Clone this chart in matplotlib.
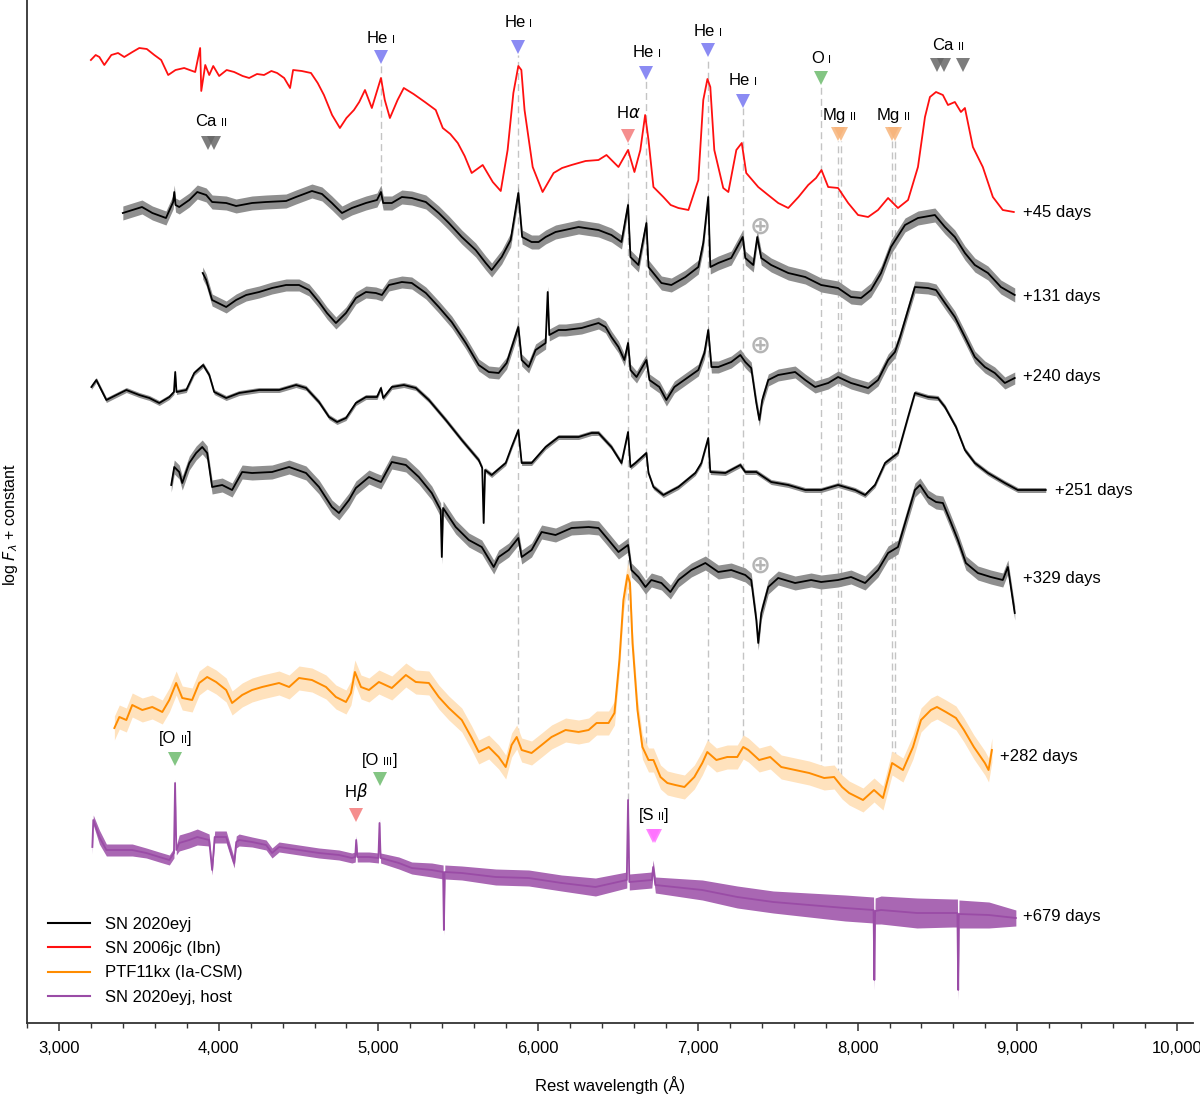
import numpy as np
import matplotlib
matplotlib.use("Agg")
import matplotlib.pyplot as plt
from matplotlib.transforms import ScaledTranslation
from matplotlib.ticker import FuncFormatter, MultipleLocator

plt.rcParams['font.family'] = ['Liberation Sans', 'DejaVu Sans']
plt.rcParams['font.size'] = 12

# ---- spectra (rest wavelength in A, log F + constant, arbitrary offsets) ----
sn06jc_wave = [3200, 3230, 3253, 3284, 3328, 3370, 3409, 3460, 3503, 3550, 3597, 3640, 3684, 3730, 3784,
               3853, 3884, 3891, 3916, 3941, 3966, 4003, 4050, 4097, 4150, 4191, 4240, 4284, 4330, 4366,
               4410, 4447, 4466, 4520, 4578, 4620, 4659, 4710, 4759, 4800, 4847, 4880, 4916, 4959, 5016,
               5040, 5072, 5120, 5159, 5220, 5291, 5359, 5403, 5450, 5497, 5540, 5584, 5653, 5716, 5766,
               5809, 5845, 5876, 5895, 5915, 5966, 6028, 6097, 6150, 6209, 6297, 6378, 6428, 6503, 6563,
               6603, 6640, 6670, 6691, 6722, 6784, 6830, 6878, 6941, 7003, 7034, 7060, 7078, 7103, 7159,
               7191, 7241, 7275, 7303, 7378, 7440, 7503, 7566, 7630, 7691, 7740, 7774, 7816, 7878, 7941,
               8003, 8066, 8128, 8191, 8253, 8316, 8378, 8422, 8453, 8491, 8534, 8566, 8609, 8647, 8672,
               8722, 8784, 8847, 8909, 8978]
sn06jc_flux = [1040, 1045, 1043, 1035, 1045, 1047, 1043, 1048, 1052, 1051, 1045, 1040, 1025, 1030, 1032,
               1028, 1052, 1009, 1035, 1025, 1034, 1024, 1030, 1028, 1024, 1022, 1026, 1025, 1029, 1027,
               1022, 1012, 1030, 1029, 1027, 1017, 1005, 985, 972, 982, 990, 998, 1010, 992, 1022,
               1000, 982, 1000, 1012, 1006, 998, 990, 972, 966, 957, 944, 927, 935, 918, 909,
               950, 1007, 1034, 1030, 990, 933, 908, 927, 932, 935, 939, 940, 945, 933, 950,
               928, 950, 985, 960, 913, 903, 895, 892, 890, 920, 1000, 1021, 1013, 950, 912,
               908, 950, 957, 927, 913, 905, 897, 892, 903, 915, 922, 930, 913, 912, 897,
               885, 883, 890, 902, 892, 900, 933, 983, 1003, 1008, 1005, 995, 998, 988, 992,
               953, 933, 903, 890, 888]

d131_wave = [3400, 3460, 3520, 3585, 3670, 3715, 3722, 3730, 3753, 3816, 3866, 3922, 3959, 4047, 4109,
             4209, 4297, 4422, 4484, 4584, 4647, 4709, 4772, 4834, 4922, 4991, 5016, 5030, 5084, 5147,
             5209, 5297, 5378, 5441, 5522, 5609, 5672, 5709, 5772, 5828, 5876, 5900, 5959, 6003, 6047,
             6109, 6253, 6378, 6459, 6522, 6563, 6578, 6628, 6678, 6691, 6772, 6834, 6922, 7003, 7034,
             7065, 7078, 7128, 7209, 7281, 7297, 7347, 7372, 7397, 7459, 7566, 7672, 7772, 7878, 7959,
             8022, 8084, 8147, 8209, 8297, 8378, 8484, 8547, 8609, 8672, 8734, 8816, 8897, 8984]
d131_flux = [887, 890, 893, 887, 882, 898, 908, 895, 893, 900, 908, 905, 898, 897, 894,
             897, 898, 899, 903, 909, 906, 897, 887, 892, 897, 900, 908, 897, 897, 903,
             902, 898, 887, 877, 863, 850, 837, 830, 843, 860, 907, 863, 858, 858, 863,
             868, 873, 870, 865, 858, 895, 843, 835, 877, 833, 817, 815, 823, 833, 857,
             903, 833, 837, 842, 863, 842, 835, 863, 842, 835, 827, 823, 815, 812, 803,
             802, 810, 827, 853, 875, 882, 885, 873, 863, 847, 835, 827, 813, 805]

d240_wave = [3900, 3922, 3959, 4047, 4109, 4172, 4253, 4334, 4422, 4503, 4566, 4628, 4678, 4734, 4797,
             4859, 4922, 4984, 5022, 5066, 5147, 5209, 5297, 5378, 5459, 5547, 5628, 5691, 5753, 5803,
             5876, 5897, 5941, 5984, 6047, 6060, 6070, 6128, 6172, 6272, 6378, 6422, 6459, 6503, 6540,
             6563, 6578, 6616, 6678, 6697, 6759, 6803, 6853, 6941, 7003, 7041, 7065, 7085, 7128, 7209,
             7266, 7297, 7334, 7366, 7385, 7403, 7441, 7503, 7609, 7672, 7734, 7816, 7878, 7959, 8066,
             8128, 8191, 8234, 8266, 8316, 8359, 8441, 8491, 8547, 8609, 8672, 8734, 8797, 8859, 8922,
             8984]
d240_flux = [827, 820, 800, 793, 800, 805, 808, 812, 815, 815, 810, 798, 787, 777, 787,
             802, 808, 807, 805, 815, 818, 817, 807, 793, 778, 757, 735, 728, 727, 737,
             773, 740, 733, 750, 757, 808, 765, 770, 770, 772, 777, 773, 763, 753, 740,
             757, 730, 723, 740, 720, 713, 700, 713, 723, 730, 747, 770, 733, 733, 738,
             745, 738, 732, 697, 680, 700, 720, 725, 728, 720, 713, 717, 723, 717, 712,
             720, 740, 748, 763, 790, 813, 812, 810, 797, 783, 763, 743, 733, 727, 717,
             722]

d251_wave = [3203, 3234, 3297, 3334, 3422, 3503, 3566, 3628, 3691, 3720, 3728, 3736, 3797, 3847, 3903,
             3941, 3972, 4047, 4128, 4253, 4378, 4484, 4547, 4628, 4691, 4741, 4797, 4859, 4922, 4991,
             5016, 5030, 5084, 5159, 5234, 5316, 5422, 5522, 5628, 5650, 5659, 5668, 5709, 5797, 5834,
             5876, 5897, 5959, 6047, 6128, 6253, 6334, 6378, 6459, 6522, 6563, 6578, 6609, 6678, 6691,
             6722, 6784, 6878, 6984, 7022, 7065, 7078, 7172, 7266, 7297, 7366, 7459, 7566, 7672, 7772,
             7878, 7984, 8047, 8109, 8172, 8253, 8316, 8359, 8441, 8503, 8547, 8616, 8672, 8734, 8816,
             8922, 9003, 9084, 9178]
d251_flux = [713, 720, 700, 703, 710, 705, 702, 697, 703, 708, 728, 708, 710, 727, 735,
             725, 708, 702, 707, 710, 710, 715, 712, 698, 683, 678, 682, 697, 703, 703,
             712, 702, 713, 715, 712, 700, 680, 660, 640, 632, 577, 630, 625, 637, 653,
             670, 637, 637, 653, 663, 663, 667, 667, 653, 637, 668, 633, 637, 647, 627,
             613, 605, 613, 627, 637, 662, 628, 627, 635, 628, 628, 618, 615, 610, 610,
             615, 610, 605, 615, 637, 647, 683, 707, 703, 702, 693, 673, 650, 637, 627,
             617, 610, 610, 610]

d329_wave = [3703, 3722, 3753, 3772, 3816, 3859, 3897, 3928, 3959, 4022, 4084, 4147, 4209, 4334, 4441,
             4547, 4628, 4709, 4753, 4816, 4859, 4941, 4984, 5016, 5084, 5172, 5253, 5334, 5390, 5397,
             5405, 5484, 5566, 5647, 5722, 5753, 5816, 5876, 5897, 5959, 6022, 6109, 6209, 6316, 6378,
             6441, 6503, 6563, 6584, 6628, 6672, 6709, 6772, 6828, 6878, 6959, 7047, 7128, 7209, 7297,
             7334, 7366, 7378, 7397, 7441, 7503, 7609, 7709, 7772, 7878, 7959, 8047, 8128, 8191, 8253,
             8303, 8359, 8391, 8441, 8491, 8534, 8578, 8628, 8678, 8753, 8834, 8909, 8941, 8984]
d329_flux = [615, 633, 628, 617, 637, 647, 653, 647, 613, 615, 610, 628, 627, 628, 633,
             627, 613, 593, 587, 600, 612, 623, 620, 618, 638, 635, 623, 607, 590, 543,
             592, 573, 560, 553, 533, 543, 550, 562, 543, 550, 568, 565, 572, 573, 572,
             560, 548, 555, 530, 523, 513, 520, 517, 508, 520, 530, 537, 528, 530, 525,
             520, 480, 457, 487, 513, 522, 517, 520, 518, 520, 523, 517, 530, 547, 553,
             580, 610, 615, 603, 598, 597, 580, 560, 537, 527, 523, 520, 533, 487]

ptf_wave = [3347, 3378, 3422, 3459, 3522, 3584, 3647, 3691, 3734, 3772, 3834, 3878, 3928, 3984, 4047,
            4084, 4147, 4209, 4272, 4378, 4441, 4503, 4584, 4672, 4734, 4797, 4828, 4853, 4891, 4941,
            5003, 5084, 5172, 5234, 5316, 5378, 5441, 5522, 5584, 5628, 5691, 5753, 5797, 5834, 5866,
            5897, 5959, 6022, 6084, 6172, 6253, 6316, 6366, 6441, 6478, 6509, 6534, 6560, 6575, 6591,
            6622, 6653, 6691, 6722, 6766, 6809, 6859, 6916, 6978, 7028, 7059, 7116, 7184, 7247, 7284,
            7316, 7384, 7453, 7522, 7609, 7697, 7791, 7853, 7903, 7947, 8034, 8103, 8159, 8216, 8284,
            8347, 8397, 8459, 8497, 8553, 8616, 8666, 8728, 8797, 8820, 8841]
ptf_flux = [372, 383, 380, 395, 390, 393, 388, 400, 417, 402, 400, 417, 423, 418, 410,
            397, 405, 410, 413, 417, 413, 422, 420, 413, 403, 398, 407, 428, 413, 410,
            418, 412, 425, 418, 417, 403, 392, 380, 362, 348, 353, 343, 333, 355, 363,
            350, 347, 355, 363, 370, 368, 370, 377, 377, 387, 440, 500, 525, 517, 457,
            390, 353, 340, 340, 323, 317, 315, 313, 323, 337, 348, 340, 343, 343, 353,
            350, 340, 343, 333, 330, 327, 322, 323, 313, 307, 300, 310, 302, 337, 330,
            353, 380, 390, 393, 388, 382, 370, 353, 337, 330, 350]

host_wave = [3209, 3215, 3253, 3297, 3378, 3459, 3547, 3628, 3691, 3720, 3727, 3735, 3753, 3816, 3866,
             3940, 3959, 3975, 4047, 4097, 4110, 4128, 4209, 4297, 4334, 4378, 4503, 4628, 4753, 4834,
             4855, 4861, 4868, 4941, 5000, 5007, 5014, 5128, 5209, 5334, 5405, 5410, 5416, 5522, 5734,
             5941, 6147, 6359, 6555, 6563, 6571, 6712, 6720, 6734, 7028, 7247, 7472, 7697, 7922, 8100,
             8105, 8110, 8147, 8372, 8597, 8625, 8630, 8635, 8822, 8991]
host_flux = [253, 280, 263, 250, 250, 250, 247, 243, 240, 247, 317, 250, 257, 260, 263,
             260, 230, 263, 263, 237, 258, 260, 258, 255, 247, 253, 250, 247, 245, 242,
             243, 260, 243, 243, 242, 277, 242, 237, 232, 230, 228, 170, 228, 227, 223,
             222, 217, 213, 220, 300, 218, 220, 233, 215, 210, 203, 198, 195, 192, 190,
             120, 189, 190, 187, 187, 187, 110, 186, 185, 182]
# half-width of the noise scatter around the host spectrum
host_scatter = [7, 5, 7, 6, 6, 6, 5, 5, 5, 5, 4, 5, 8, 8, 8,
                6, 5, 6, 6, 5, 6, 6, 5, 5, 5, 5, 5, 5, 5, 5,
                5, 4, 5, 5, 5, 4, 5, 6, 6, 7, 7, 5, 7, 7, 8,
                8, 8, 9, 8, 5, 8, 8, 7, 8, 10, 11, 11, 12, 13, 13,
                10, 13, 14, 15, 14, 14, 10, 14, 13, 8]

# noise scatter half-widths of the raw spectra (read from the grey/light bands)
raw_scatter_131 = 7
raw_scatter_240 = 6
raw_scatter_251 = 2.5
raw_scatter_329 = 7
raw_scatter_ptf = 12

# ---- line identifications ----
id_labels = ['He', 'He', 'H$\\alpha$', 'He', 'He', 'He', 'O', 'Mg', 'Mg', 'Ca', 'Ca',
             '[O', '[O', 'H$\\beta$', '[S']
id_numerals = ['I', 'I', '', 'I', 'I', 'I', 'I', 'II', 'II', 'II', 'II', 'II', 'III', '', 'II']
id_waves = [[5016], [5876], [6563], [6678], [7065], [7281], [7774], [7877, 7896], [8214, 8234],
            [8498, 8542, 8662], [3934, 3968], [3727], [5007], [4861], [6717, 6731]]
id_marker_y = [1043, 1053, 964, 1027, 1050, 999, 1022, 966, 966, 1035, 957, 341, 321, 285, 264]
id_text_y = [1057, 1073, 982, 1043, 1064, 1015, 1037, 980, 980, 1050, 974, 357, 335, 303, 280]
id_colors = ['#7777f2', '#7777f2', '#f47a7a', '#7777f2', '#7777f2', '#7777f2', '#6dbb6d',
             '#f7b47a', '#f7b47a', '#666666', '#666666', '#6dbb6d', '#6dbb6d', '#f47a7a', '#ff70ff']

# dashed guide lines: wavelength, top, bottom
guide_waves = [5016, 5876, 6563, 6678, 7065, 7281, 7774, 7877, 7896, 8214, 8234]
guide_top = [1035, 1045, 957, 1020, 1043, 992, 1015, 959, 959, 959, 959]
guide_bottom = [905, 365, 300, 345, 343, 352, 328, 325, 325, 330, 330]

phase_labels = ['+45 days', '+131 days', '+240 days', '+251 days', '+329 days', '+282 days', '+679 days']
phase_x = [9034, 9034, 9034, 9234, 9034, 8891, 9034]
phase_y = [887, 804, 724, 609, 522, 344, 183]

earth_x = [7391, 7391, 7391]
earth_y = [873, 754, 534]

fig = plt.figure(figsize=(12, 10.96), dpi=100)
ax = fig.add_axes([27 / 1200, 73 / 1096, 1166 / 1200, 1023 / 1096])

ax.vlines(guide_waves, guide_bottom, guide_top, colors='#c4c4c4', linestyles=(0, (5, 3)),
          linewidth=1, zorder=1)

# SN 2020eyj epochs: raw scatter (grey) and smoothed (black)
for w, f, s in [(d131_wave, d131_flux, raw_scatter_131), (d240_wave, d240_flux, raw_scatter_240),
                (d251_wave, d251_flux, raw_scatter_251), (d329_wave, d329_flux, raw_scatter_329)]:
    f = np.array(f)
    ax.fill_between(w, f - s, f + s, color='#8f8f8f', lw=0, zorder=2)
    ax.plot(w, f, color='black', lw=1.3, zorder=3)

ax.plot(sn06jc_wave, sn06jc_flux, color='#ff1010', lw=1.3, zorder=3)

pf = np.array(ptf_flux)
ax.fill_between(ptf_wave, pf - raw_scatter_ptf, pf + raw_scatter_ptf, color='#ffe2bd', lw=0, zorder=2)
ax.plot(ptf_wave, ptf_flux, color='#ff8c00', lw=1.4, zorder=3)

hf = np.array(host_flux)
hs = np.array(host_scatter)
ax.fill_between(host_wave, hf - hs, hf + hs, color='#9a4ca6', alpha=0.85, lw=0, zorder=2)
ax.plot(host_wave, host_flux, color='#9a4ca6', lw=1.3, zorder=3)

fig.canvas.draw()
renderer = fig.canvas.get_renderer()


def ion_label(x, y, main, numeral):
    parts = [(main, 12)]
    if numeral:
        parts.append((' ', 12))
        parts.append((numeral, 8))
    if main.startswith('['):
        parts.append((']', 12))
    texts = [ax.text(x, y, s, fontsize=fs, ha='left', va='baseline', zorder=5) for s, fs in parts]
    widths = [t.get_window_extent(renderer).width for t in texts]
    if numeral:
        widths[1] = 4
    off = -sum(widths) / 2
    for t, wd in zip(texts, widths):
        t.set_transform(ax.transData + ScaledTranslation(off / fig.dpi, 0, fig.dpi_scale_trans))
        off += wd


for lab, num, waves, my, ty, col in zip(id_labels, id_numerals, id_waves, id_marker_y,
                                        id_text_y, id_colors):
    ax.plot(waves, [my] * len(waves), linestyle='none', marker='v', markersize=10,
            color=col, alpha=0.85, markeredgewidth=0, zorder=4)
    ion_label(np.mean(waves), ty, lab, num)

for s, x, y in zip(phase_labels, phase_x, phase_y):
    ax.text(x, y, s, fontsize=12, ha='left', va='center')

for x, y in zip(earth_x, earth_y):
    ax.text(x, y, '\u2295', fontsize=18, ha='center', va='center', color='#b4b4b4',
            family=['DejaVu Sans'], fontweight='bold', zorder=5)

# legend
ax.plot([], [], color='black', lw=1.5, label='SN 2020eyj')
ax.plot([], [], color='#ff1010', lw=1.5, label='SN 2006jc (Ibn)')
ax.plot([], [], color='#ff8c00', lw=1.5, label='PTF11kx (Ia-CSM)')
ax.plot([], [], color='#9a4ca6', lw=1.5, label='SN 2020eyj, host')
ax.legend(loc='lower left', bbox_to_anchor=(0.018, 0.018), frameon=False, fontsize=12,
          borderpad=0, borderaxespad=0, handlelength=2.5, handletextpad=0.9, labelspacing=0.55)

ax.set_xlim(2800, 10100)
ax.set_ylim(77, 1100)
ax.set_yticks([])
ax.xaxis.set_major_locator(MultipleLocator(1000))
ax.xaxis.set_minor_locator(MultipleLocator(200))
ax.xaxis.set_major_formatter(FuncFormatter(lambda v, p: f'{v:,.0f}'))
ax.tick_params(axis='x', which='major', length=6, width=1.1, direction='out', labelsize=12, pad=7,
               color='#333333')
ax.tick_params(axis='x', which='minor', length=3.5, width=1.0, direction='out', color='#333333')
for side in ['top', 'right']:
    ax.spines[side].set_visible(False)
for side in ['left', 'bottom']:
    ax.spines[side].set_linewidth(1.3)
    ax.spines[side].set_color('#333333')

ax.set_xlabel('Rest wavelength (Å)', fontsize=12)
ax.xaxis.set_label_coords(0.5, -0.052)
ax.set_ylabel('log $F_\\lambda$ + constant', fontsize=11.5)
ax.yaxis.set_label_coords(-0.006, 0.487)

fig.savefig('out.png', dpi=100)
